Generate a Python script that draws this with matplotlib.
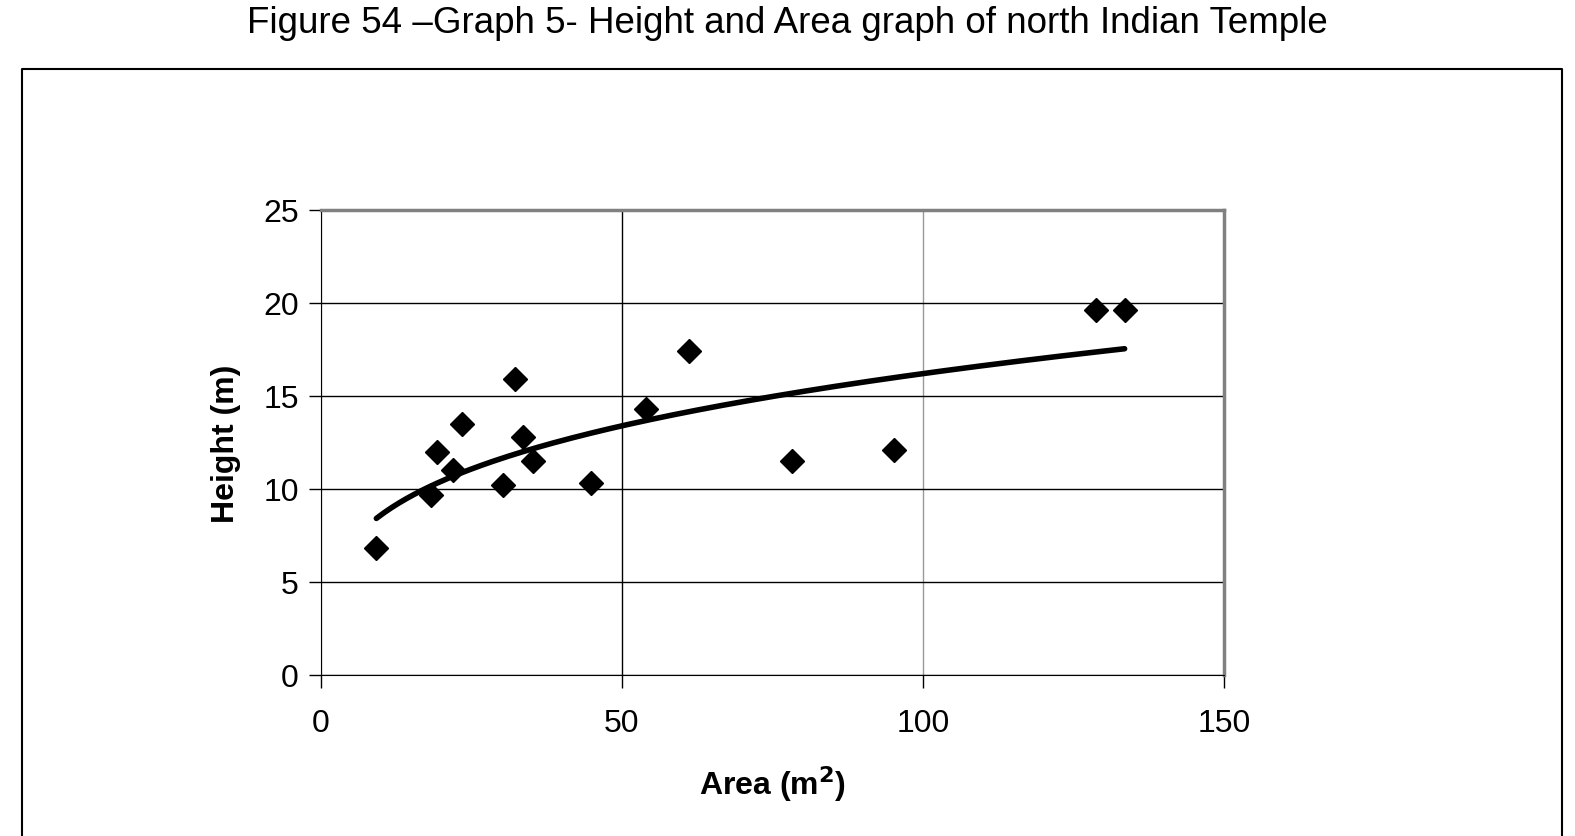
import numpy as np
import matplotlib
matplotlib.use("Agg")
import matplotlib.pyplot as plt
from matplotlib.lines import Line2D

plt.rcParams['font.family'] = ['Liberation Sans', 'DejaVu Sans']

# temple area (m2) and height (m)
area = [9.2, 18.3, 19.2, 22.0, 23.5, 30.2, 32.2, 33.5, 35.2, 44.8,
        54.0, 61.2, 78.3, 95.2, 128.8, 133.5]
height = [6.8, 9.7, 12.0, 11.0, 13.5, 10.2, 15.9, 12.8, 11.5, 10.3,
          14.3, 17.4, 11.5, 12.1, 19.6, 19.6]
x_ticks = [0, 50, 100, 150]
y_ticks = [0, 5, 10, 15, 20, 25]

fig = plt.figure(figsize=(15.75, 8.37), dpi=100)
ax = fig.add_axes([0.2038, 0.1924, 0.5733, 0.5556])

# power trendline, like excel's
b, ln_a = np.polyfit(np.log(area), np.log(height), 1)
xs = np.linspace(min(area), max(area), 200)
ax.plot(xs, np.exp(ln_a) * xs ** b, color='black', lw=4, zorder=3,
        solid_capstyle='round')

ax.plot(area, height, linestyle='none', marker='D', markersize=11.8,
        color='black', zorder=4)

ax.set_xlim(0, 150)
ax.set_ylim(0, 25)
ax.set_xticks(x_ticks)
ax.set_yticks(y_ticks)
ax.tick_params(labelsize=23, length=9, width=1, direction='out')
ax.tick_params(axis='x', pad=15)
ax.tick_params(axis='y', pad=7)

ax.grid(True, color='black', lw=1)
for gl, t in zip(ax.xaxis.get_gridlines(), x_ticks):
    gl.set_color('black' if t == 50 else '#999999')

ax.spines['left'].set_color('black')
ax.spines['bottom'].set_color('black')
for s in ('top', 'right'):
    ax.spines[s].set_color('#808080')
    ax.spines[s].set_linewidth(2.5)

ax.set_xlabel('Area (m$^{\\mathbf{2}}$)', fontsize=23, fontweight='bold', labelpad=18)
ax.set_ylabel('Height (m)', fontsize=23, fontweight='bold', labelpad=16)

fig.text(0.5, 0.972, 'Figure 54 \u2013Graph 5- Height and Area graph of north Indian Temple',
         ha='center', va='center', fontsize=26.5)

# chart area frame (bottom edge runs off the page)
l, r, t = 22 / 1575, 1562 / 1575, 1 - 70 / 837
fig.add_artist(Line2D([l, l, r, r], [0, t, t, 0], transform=fig.transFigure,
                      color='black', lw=1.5))

fig.savefig('out.png', dpi=100)
